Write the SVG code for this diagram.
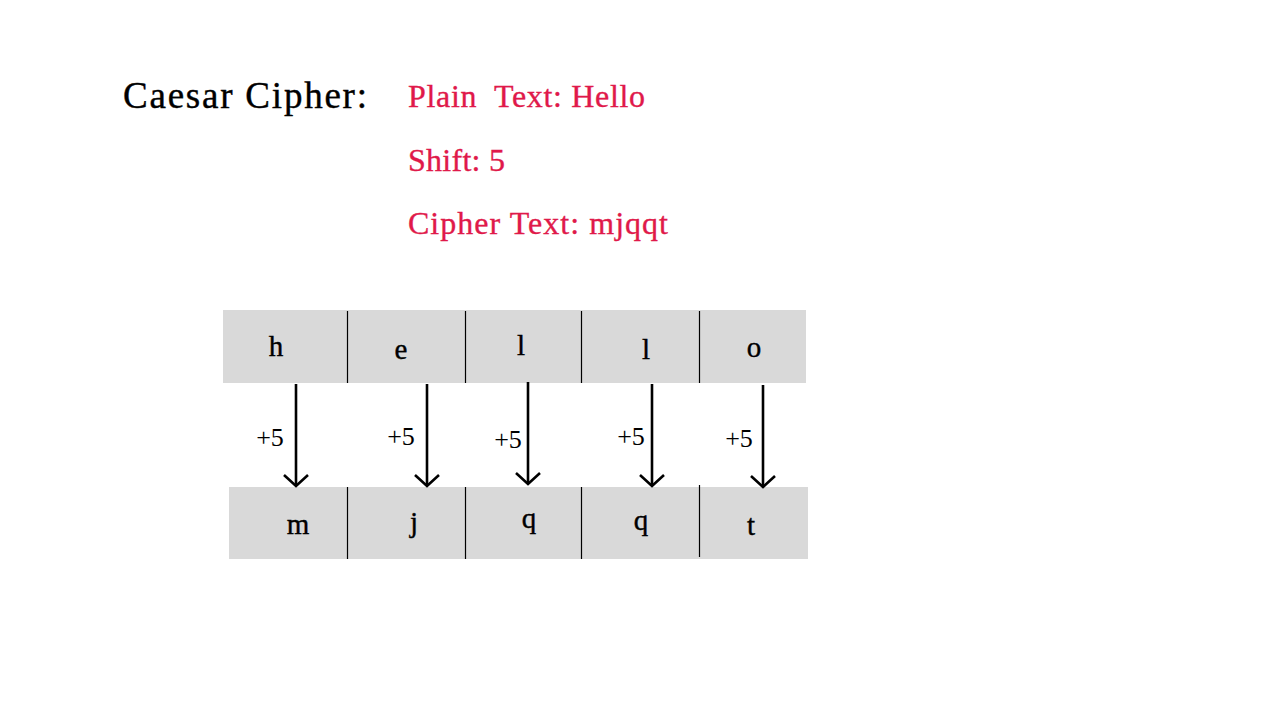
<svg xmlns="http://www.w3.org/2000/svg" width="1280" height="720" viewBox="0 0 1280 720">
<defs>
<style>
.t{font-family:"Liberation Serif","DejaVu Serif",serif;}
.title{font-size:37px;fill:#000;stroke:#000;stroke-width:0.4;}
.red{fill:#e0194a;font-size:32px;stroke:#e0194a;stroke-width:0.35;}
.cell{fill:#d9d9d9;}
.div{stroke:#000;stroke-width:1.2;}
.ch{font-size:29px;fill:#000;text-anchor:middle;stroke:#000;stroke-width:0.4;}
.lab{font-size:26px;fill:#000;text-anchor:middle;}
.arr{stroke:#000;stroke-width:2.6;fill:none;}
</style>
<marker id="ah" markerWidth="14" markerHeight="26" refX="12" refY="13" orient="auto" markerUnits="userSpaceOnUse" viewBox="0 0 14 26">
<path d="M1 1 L12 13 L1 25" stroke="#000" stroke-width="2.6" fill="none"/>
</marker>
</defs>
<rect width="1280" height="720" fill="#fff"/>
<g id="title"><text class="t title" x="123" y="108" textLength="244">Caesar Cipher:</text></g>
<g id="info">
<text class="t red" x="408" y="107" textLength="237" xml:space="preserve">Plain  Text: Hello</text>
<text class="t red" x="408" y="171" textLength="97">Shift: 5</text>
<text class="t red" x="408" y="234" textLength="260">Cipher Text: mjqqt</text>
</g>
<g id="plain">
<rect class="cell" x="223" y="310" width="583" height="73"/>
<line class="div" x1="347.5" y1="311" x2="347.5" y2="383"/>
<line class="div" x1="465.5" y1="311" x2="465.5" y2="383"/>
<line class="div" x1="581.5" y1="311" x2="581.5" y2="383"/>
<line class="div" x1="699.5" y1="311" x2="699.5" y2="383"/>
<text class="t ch" x="276" y="356">h</text>
<text class="t ch" x="401" y="359">e</text>
<text class="t ch" x="521" y="355">l</text>
<text class="t ch" x="646" y="359">l</text>
<text class="t ch" x="754" y="357">o</text>
</g>
<g id="cipher">
<rect class="cell" x="229" y="487" width="579" height="72"/>
<line class="div" x1="347.5" y1="487" x2="347.5" y2="559"/>
<line class="div" x1="465.5" y1="487" x2="465.5" y2="559"/>
<line class="div" x1="581.5" y1="487" x2="581.5" y2="559"/>
<line class="div" x1="699.5" y1="485" x2="699.5" y2="557"/>
<text class="t ch" x="298" y="534">m</text>
<text class="t ch" x="414" y="532">j</text>
<text class="t ch" x="529" y="528">q</text>
<text class="t ch" x="641" y="530">q</text>
<text class="t ch" x="751" y="535">t</text>
</g>
<g id="connectors">
<line class="arr" x1="296" y1="384" x2="296" y2="486" marker-end="url(#ah)"/>
<line class="arr" x1="427" y1="384" x2="427" y2="486" marker-end="url(#ah)"/>
<line class="arr" x1="528" y1="382" x2="528" y2="484" marker-end="url(#ah)"/>
<line class="arr" x1="652" y1="384" x2="652" y2="486" marker-end="url(#ah)"/>
<line class="arr" x1="763" y1="385" x2="763" y2="487" marker-end="url(#ah)"/>
<text class="t lab" x="270" y="446">+5</text>
<text class="t lab" x="401" y="445">+5</text>
<text class="t lab" x="508" y="448">+5</text>
<text class="t lab" x="631" y="445">+5</text>
<text class="t lab" x="739" y="447">+5</text>
</g>
</svg>
